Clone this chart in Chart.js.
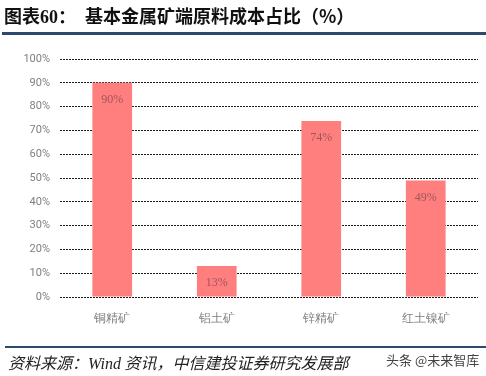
<!DOCTYPE html>
<html>
<head>
<meta charset="utf-8">
<script src="https://cdn.jsdelivr.net/npm/chart.js@4/dist/chart.umd.min.js"></script>
<style>
  html,body{margin:0;padding:0;background:#fff;}
  #wrap{position:relative;width:486px;height:376px;overflow:hidden;font-family:"Noto Sans CJK SC","Noto Sans",sans-serif;}
  #title{position:absolute;left:4px;top:2px;font-size:18px;font-weight:bold;color:#111;white-space:nowrap;line-height:26px;}
  #title .t2{position:absolute;left:81px;top:0;}
  #topline{position:absolute;left:2px;right:0;top:32px;height:3px;background:#2c4a6e;}
  #botline{position:absolute;left:5px;right:0;top:346px;height:2px;background:#2c4a6e;}
  #src{position:absolute;left:8px;top:351px;font-size:16px;line-height:22px;font-style:italic;color:#222;white-space:nowrap;font-family:"Noto Sans CJK SC",serif;}
  #src .w{font-family:"Liberation Serif",serif;}
  #mark{position:absolute;left:386px;top:351px;font-size:13px;line-height:18px;color:#444;white-space:nowrap;}
  canvas{position:absolute;left:0;top:0;}
</style>
</head>
<body>
<div id="wrap">
  <canvas id="c" width="486" height="376"></canvas>
  <div id="title">图表<span style="font-family:'Liberation Serif',serif">60</span>：<span class="t2">基本金属矿端原料成本占比（%）</span></div>
  <div id="topline"></div>
  <div id="botline"></div>
  <div id="src">资料来源：<span class="w">Wind</span> 资讯，中信建投证券研究发展部</div>
  <div id="mark">头条 @未来智库</div>
</div>
<script>
const categories = ['铜精矿', '铝土矿', '锌精矿', '红土镍矿'];
const values = [90, 13, 74, 49];
const yTicks = [0, 10, 20, 30, 40, 50, 60, 70, 80, 90, 100];

const BAR = '#ff7f7f', GRID = '#1e1e1e', TXT = '#7f7f7f';

const barLabels = {
  id: 'barLabels',
  afterDatasetsDraw(chart) {
    const ctx = chart.ctx;
    const meta = chart.getDatasetMeta(0);
    ctx.save();
    ctx.font = '12px "Liberation Serif", serif';
    ctx.fillStyle = '#a0555a';
    ctx.textAlign = 'center';
    ctx.textBaseline = 'middle';
    meta.data.forEach((bar, i) => {
      ctx.fillText(values[i] + '%', bar.x, bar.y + 17);
    });
    ctx.restore();
  }
};

new Chart(document.getElementById('c'), {
  type: 'bar',
  data: {
    labels: categories,
    datasets: [{
      data: values,
      backgroundColor: BAR,
      borderWidth: 0,
      barPercentage: 0.38,
      categoryPercentage: 1
    }]
  },
  options: {
    responsive: false,
    animation: false,
    layout: { padding: { top: 59, right: 8, left: 0, bottom: 0 } },
    plugins: { legend: { display: false }, tooltip: { enabled: false } },
    scales: {
      y: {
        min: 0, max: 100,
        afterFit(s) { s.width = 60; },
        afterBuildTicks(s) { s.ticks = yTicks.map(v => ({ value: v })); },
        ticks: { padding: 10, color: TXT, font: { size: 11, family: 'Roboto, sans-serif' }, callback: v => v + '%' },
        grid: { color: GRID, lineWidth: 1, drawTicks: false },
        border: { display: false, dash: [2, 1] }
      },
      x: {
        afterFit(s) { s.height = 79; },
        ticks: { padding: 6, color: TXT, font: { size: 12 } },
        grid: { display: false },
        border: { display: false }
      }
    }
  },
  plugins: [barLabels]
});
</script>
</body>
</html>
